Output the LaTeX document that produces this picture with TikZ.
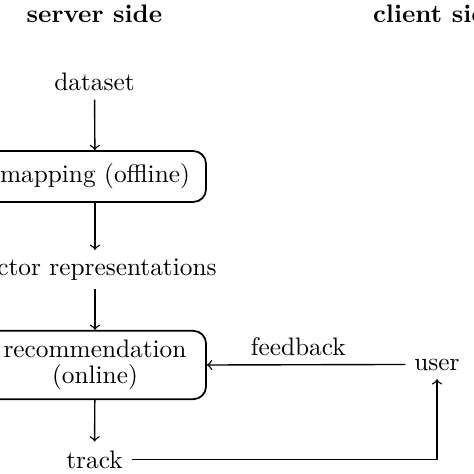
\documentclass[tikz,border=0pt]{standalone}
\usetikzlibrary{arrows}
\begin{document}
\begin{tikzpicture}[x=0.395pt,y=-0.395pt,
  box/.style={draw,line width=0.7pt,rounded corners=5pt,minimum width=87.7pt,align=center,inner sep=3pt},
  lbl/.style={inner sep=3.33pt},
  head/.style={font=\bfseries,anchor=base},
  arr/.style={->,>=to,line width=0.55pt}]
\useasboundingbox (0,0) rectangle (474,474);
\clip (0,0) rectangle (474,474);
\node[head] (srv) at (94.5,22.5) {server side};
\node[head] (cli) at (437,22.5) {client side};
\node[lbl,anchor=base] (data) at (94.5,90.5) {dataset};
\node[box,minimum height=20.1pt] (map) at (95,176.5) {mapping (offline)};
\node[lbl,anchor=base] (vec) at (95,275.5) {vector representations};
\node[box,minimum height=27pt] (rec) at (95,365) {recommendation\\[-1.8pt](online)};
\node[lbl,anchor=base] (track) at (94.5,468) {track};
\node[lbl,anchor=base] (user) at (437,370) {user};
\draw[arr] (data) -- (map);
\draw[arr] (map) -- (vec);
\draw[arr] (vec) -- (rec);
\draw[arr] (rec) -- (track);
\draw[arr] (track.east) -| (user.south);
\draw[arr] (user.west) -- node[above,pos=0.54,inner sep=3.33pt] (fb) {feedback} (rec.east);
\end{tikzpicture}
\end{document}
